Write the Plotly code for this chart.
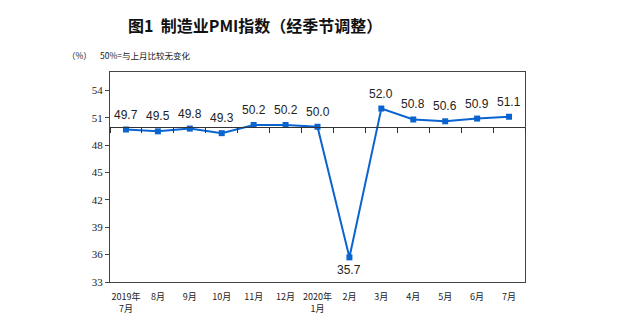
import plotly.graph_objects as go

months = ["2019年<br>7月", "8月", "9月", "10月", "11月", "12月", "2020年<br>1月",
          "2月", "3月", "4月", "5月", "6月", "7月"]
pmi = [49.7, 49.5, 49.8, 49.3, 50.2, 50.2, 50.0, 35.7, 52.0, 50.8, 50.6, 50.9, 51.1]
y_ticks = [33, 36, 39, 42, 45, 48, 51, 54]
labels = [f"{v:.1f}" for v in pmi]

W, H = 640, 329
ML, MR, MT, MB = 110, 115, 72, 47
pw, ph = W - ML - MR, H - MT - MB


def px(x):
    return (x - ML) / pw


def py(y):
    return (H - MB - y) / ph


fig = go.Figure()
fig.add_trace(go.Scatter(
    x=months, y=pmi, mode="lines+markers",
    line=dict(color="#0A64CF", width=2),
    marker=dict(symbol="square", size=6, color="#0A64CF"),
    cliponaxis=False, showlegend=False,
))
fig.add_trace(go.Scatter(x=months, y=[None] * len(months), xaxis="x2",
                         showlegend=False, hoverinfo="skip"))

annots = []
for m, v, t in zip(months, pmi, labels):
    annots.append(dict(x=m, y=v, xref="x", yref="y", text=t, showarrow=False,
                       yshift=-13 if v < 40 else 15,
                       font=dict(family="Liberation Sans, Arial", size=12, color="#222222")))

annots += [
    dict(text="<b>图1  制造业PMI指数（经季节调整）</b>", x=px(255), y=py(25),
         xref="paper", yref="paper", showarrow=False, yanchor="middle",
         font=dict(family="Noto Sans CJK SC", size=16, color="#111")),
    dict(text="（%）", x=px(65), y=py(55), xref="paper", yref="paper",
         xanchor="left", yanchor="middle", showarrow=False,
         font=dict(family="Noto Sans CJK SC", size=8.5, color="#222")),
    dict(text="50%=与上月比较无变化", x=px(98), y=py(55), xref="paper", yref="paper",
         xanchor="left", yanchor="middle", showarrow=False,
         font=dict(family="Noto Sans CJK SC", size=8.5, color="#222")),
]

ymin, ymax = 33, 56
fig.update_layout(
    width=W, height=H,
    margin=dict(l=ML, r=MR, t=MT, b=MB),
    paper_bgcolor="white", plot_bgcolor="white",
    xaxis=dict(
        type="category", showline=True, linecolor="#444", linewidth=1.2, mirror=True,
        ticks="outside", ticklen=6, tickcolor="rgba(0,0,0,0)",
        showgrid=False, zeroline=False,
        tickfont=dict(family="Noto Sans CJK SC", size=9, color="#222"),
        range=[-0.5, 12.5],
    ),
    xaxis2=dict(
        type="category", overlaying="x", anchor="free",
        position=(50 - ymin) / (ymax - ymin),
        showline=True, linecolor="#333", linewidth=1,
        ticks="outside", ticklen=5, tickcolor="#333", tickson="boundaries",
        showticklabels=False, showgrid=False, range=[-0.5, 12.5],
        categoryarray=months, categoryorder="array",
    ),
    yaxis=dict(
        range=[ymin, ymax], tickvals=y_ticks, showline=True, linecolor="#444",
        linewidth=1.2, mirror=True, ticks="outside", ticklen=4, tickcolor="#444",
        showgrid=False, zeroline=False,
        tickfont=dict(family="Liberation Serif", size=11, color="#222"),
    ),
    annotations=annots,
)

fig.write_html("out.html")
